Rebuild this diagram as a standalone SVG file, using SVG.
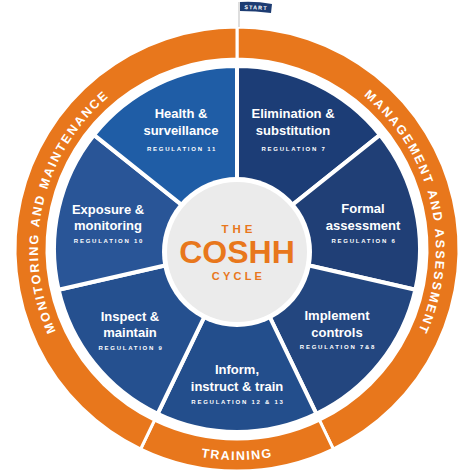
<svg xmlns="http://www.w3.org/2000/svg" width="474" height="474" viewBox="0 0 474 474">
<defs>
<style>
.wedge{stroke:#fff;stroke-width:4;stroke-linejoin:round}
.ring{fill:#e8771c;stroke:#fff;stroke-width:3}
.lbl{font-family:"Liberation Sans",Arial,sans-serif;font-weight:bold;font-size:13px;fill:#fff;text-anchor:middle}
.reg{font-family:"Liberation Sans",Arial,sans-serif;font-weight:bold;font-size:6px;fill:#fff;text-anchor:middle;letter-spacing:1.75px}
.arc{font-family:"Liberation Sans",Arial,sans-serif;font-weight:bold;font-size:12.5px;fill:#fff;letter-spacing:2px}
.ctr{font-family:"Liberation Sans",Arial,sans-serif;font-weight:bold;fill:#e8771c;text-anchor:middle}
</style>
<path id="pLeft" d="M150.66,428.29 A199,199 0 0 1 237,50"/>
<path id="pRight" d="M237,50 A199,199 0 0 1 323.34,428.29"/>
<path id="pBottom" d="M54.27,354.5 A211,211 0 0 0 419.73,354.5"/>
</defs>
<rect width="474" height="474" fill="#fff"/>

<g id="ring-management">
<path class="ring" d="M237,27 A222,222 0 0 1 333.32,449.01 L319.45,420.19 A190,190 0 0 0 237,59 Z"/>
<text class="arc"><textPath href="#pRight" startOffset="137.3">MANAGEMENT</textPath></text>
<text class="arc"><textPath href="#pRight" startOffset="253.7">AND</textPath></text>
<text class="arc"><textPath href="#pRight" startOffset="292.3">ASSESSMENT</textPath></text>
</g>
<g id="ring-training">
<path class="ring" d="M333.32,449.01 A222,222 0 0 1 140.68,449.01 L154.55,420.19 A190,190 0 0 0 319.45,420.19 Z"/>
<text class="arc" style="letter-spacing:1.5px"><textPath href="#pBottom" startOffset="50%" text-anchor="middle">TRAINING</textPath></text>
</g>
<g id="ring-monitoring">
<path class="ring" d="M140.68,449.01 A222,222 0 0 1 237,27 L237,59 A190,190 0 0 0 154.55,420.19 Z"/>
<text class="arc"><textPath href="#pLeft" startOffset="138.1">MONITORING</textPath></text>
<text class="arc"><textPath href="#pLeft" startOffset="244.8">AND</textPath></text>
<text class="arc"><textPath href="#pLeft" startOffset="283.4">MAINTENANCE</textPath></text>
</g>

<g id="start-flag">
<line x1="239" y1="2" x2="239" y2="27" stroke="#c8c8c8" stroke-width="1.2"/>
<path d="M240,2 Q256,1 272,4 L271,13 Q256,11 240,11 Z" fill="#1d3c72"/>
<text x="256" y="9.5" transform="rotate(3 256 8)" style="font-family:'Liberation Sans',Arial,sans-serif;font-weight:bold;font-size:5.5px;fill:#fff;text-anchor:middle;letter-spacing:1.1px">START</text>
</g>

<g id="seg-elimination">
<path class="wedge" fill="#1c3d76" d="M237,249 L237,66 A183,183 0 0 1 380.07,134.90 Z"/>
<text class="lbl" x="293" y="118">Elimination &amp;</text>
<text class="lbl" x="293" y="135">substitution</text>
<text class="reg" x="294" y="151">REGULATION 7</text>
</g>
<g id="seg-formal">
<path class="wedge" fill="#203f76" d="M237,249 L380.07,134.90 A183,183 0 0 1 415.41,289.72 Z"/>
<text class="lbl" x="363" y="213">Formal</text>
<text class="lbl" x="363" y="230">assessment</text>
<text class="reg" x="364" y="243">REGULATION 6</text>
</g>
<g id="seg-implement">
<path class="wedge" fill="#23467f" d="M237,249 L415.41,289.72 A183,183 0 0 1 316.40,413.88 Z"/>
<text class="lbl" x="337" y="320">Implement</text>
<text class="lbl" x="337" y="337">controls</text>
<text class="reg" x="338" y="349">REGULATION 7&amp;8</text>
</g>
<g id="seg-inform">
<path class="wedge" fill="#234e8c" d="M237,249 L316.40,413.88 A183,183 0 0 1 157.60,413.88 Z"/>
<text class="lbl" x="237" y="374">Inform,</text>
<text class="lbl" x="237" y="391">instruct &amp; train</text>
<text class="reg" x="238" y="404">REGULATION 12 &amp; 13</text>
</g>
<g id="seg-inspect">
<path class="wedge" fill="#25508f" d="M237,249 L157.60,413.88 A183,183 0 0 1 58.59,289.72 Z"/>
<text class="lbl" x="130" y="321">Inspect &amp;</text>
<text class="lbl" x="130" y="337">maintain</text>
<text class="reg" x="131" y="350">REGULATION 9</text>
</g>
<g id="seg-exposure">
<path class="wedge" fill="#295597" d="M237,249 L58.59,289.72 A183,183 0 0 1 93.93,134.90 Z"/>
<text class="lbl" x="108" y="214">Exposure &amp;</text>
<text class="lbl" x="108" y="230">monitoring</text>
<text class="reg" x="109" y="243">REGULATION 10</text>
</g>
<g id="seg-health">
<path class="wedge" fill="#1f5da6" d="M237,249 L93.93,134.90 A183,183 0 0 1 237,66 Z"/>
<text class="lbl" x="181" y="118">Health &amp;</text>
<text class="lbl" x="181" y="135">surveillance</text>
<text class="reg" x="182" y="151">REGULATION 11</text>
</g>

<g id="center">
<circle cx="237" cy="252" r="75" fill="#fff"/>
<circle cx="237" cy="252" r="70" fill="#ebebeb"/>
<text class="ctr" x="239" y="233" style="font-size:11.5px;letter-spacing:4px">THE</text>
<text class="ctr" x="237" y="263" style="font-size:32px">COSHH</text>
<text class="ctr" x="238.5" y="280" style="font-size:11px;letter-spacing:3.2px">CYCLE</text>
</g>

<g id="connectors"></g>
</svg>
